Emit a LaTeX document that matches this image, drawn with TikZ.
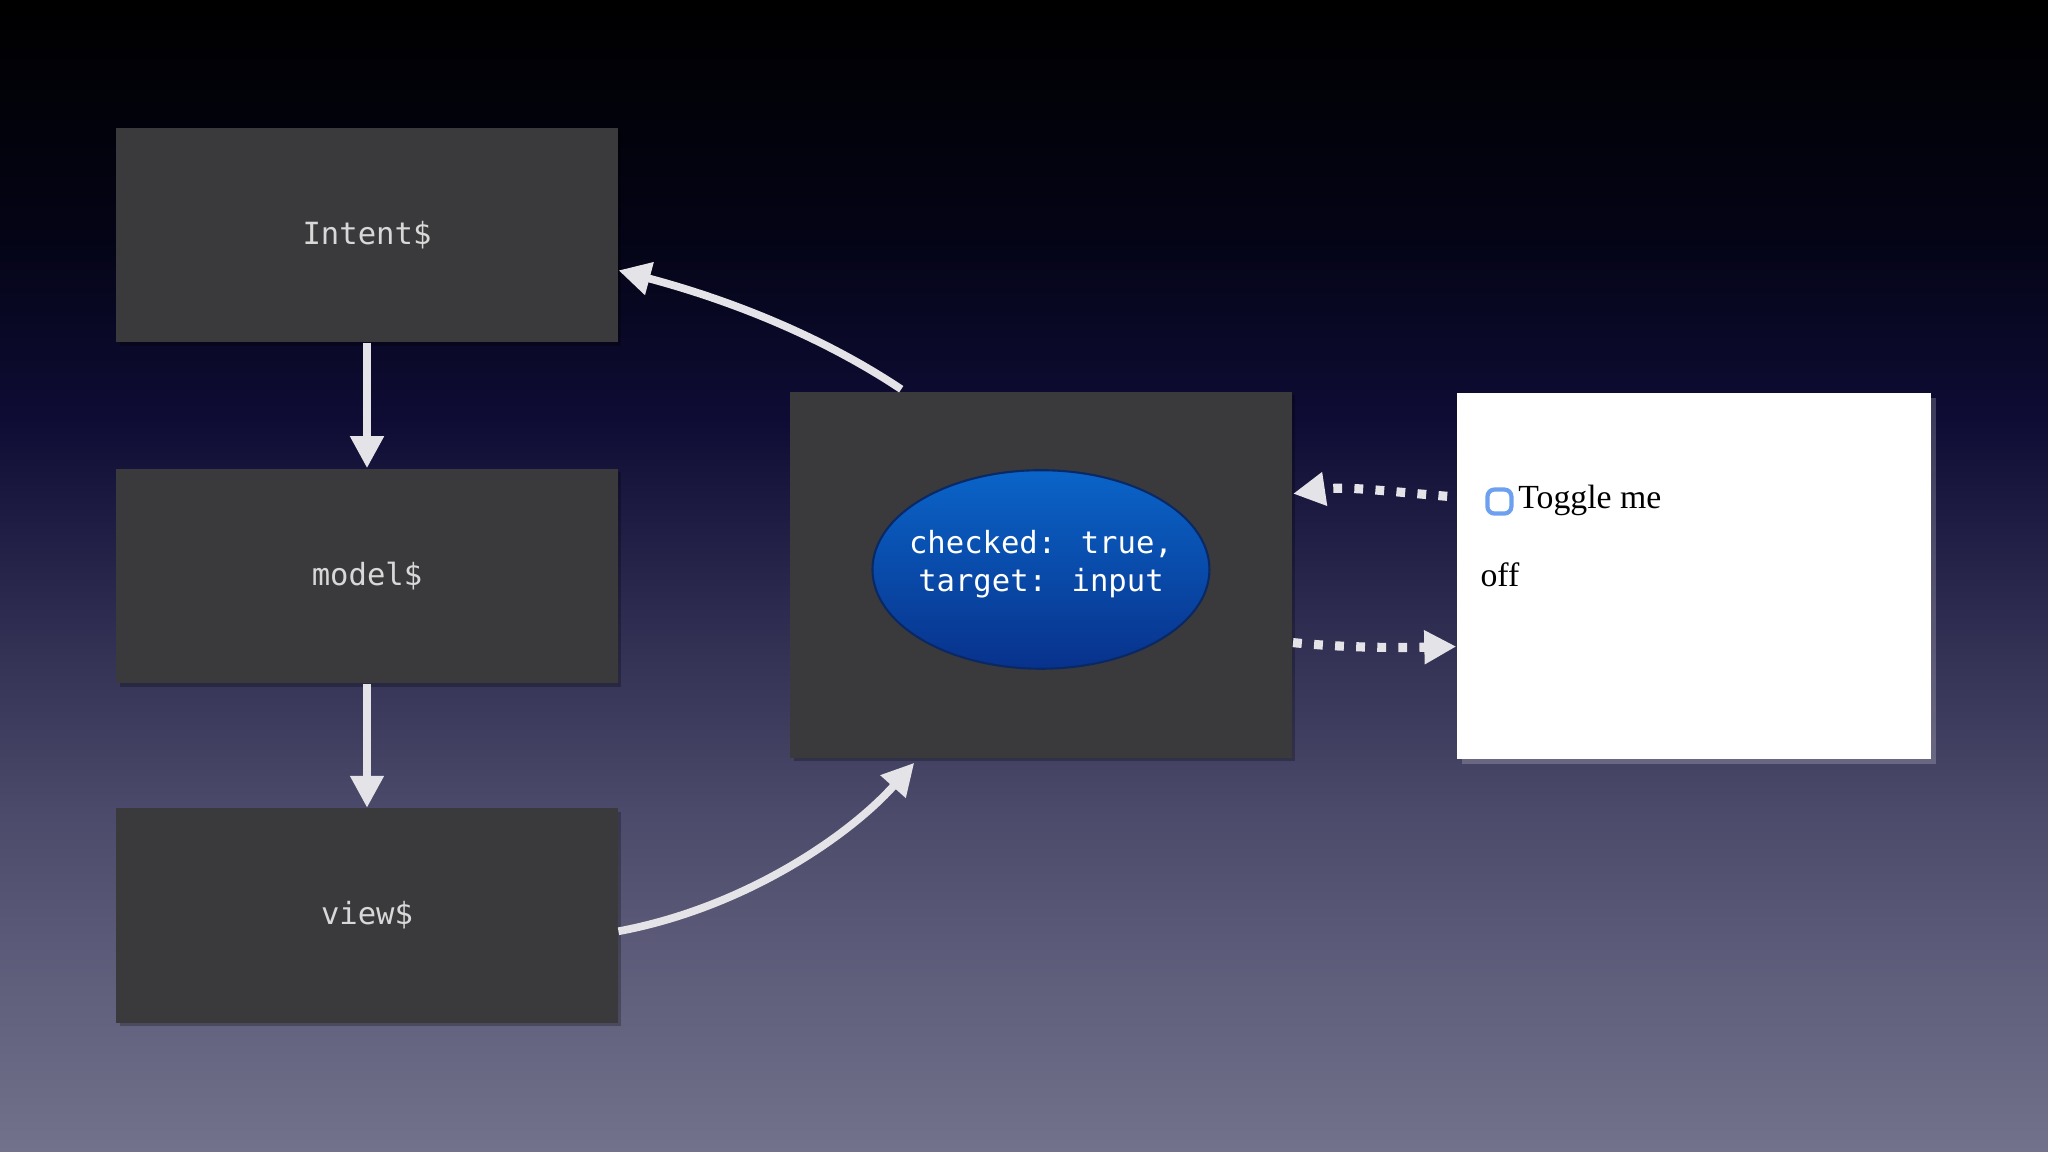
\documentclass[tikz,border=0pt]{standalone}
\usepackage{fontspec}
\setmainfont{Liberation Serif}
\newfontfamily\monof{DejaVu Sans Mono}
\usetikzlibrary{arrows.meta,shapes.geometric,shadows}
\definecolor{boxgray}{HTML}{3A3A3C}
\definecolor{txtgray}{HTML}{D8D8D8}
\definecolor{arrgray}{HTML}{E4E4E8}
\definecolor{bgA}{RGB}{0,0,0}
\definecolor{bgB}{RGB}{4,4,22}
\definecolor{bgC}{RGB}{14,12,52}
\definecolor{bgD}{RGB}{76,74,106}
\definecolor{bgE}{RGB}{114,114,140}
\tikzset{
  darkbox/.style={fill=boxgray,draw=none,minimum width=384*0.01306cm,minimum height=164*0.01306cm,text=txtgray,font=\monof\fontsize{8.7}{10}\selectfont,drop shadow={shadow xshift=1pt,shadow yshift=-1pt,opacity=0.25,fill=black}},
  conn/.style={draw=arrgray,line width=2.2pt,-{Triangle[length=0.32cm,width=0.32cm]}},
  dotconn/.style={draw=arrgray,line width=2.6pt,dash pattern=on 2.5pt off 3.5pt,-{Triangle[length=0.32cm,width=0.32cm]}},
}
\begin{document}
\begin{tikzpicture}[x=0.01306cm,y=-0.01306cm]
\shade[top color=bgA,bottom color=bgB] (0,0) rectangle (1568,180);
\shade[top color=bgB,bottom color=bgC] (0,180) rectangle (1568,320);
\shade[top color=bgC,bottom color=bgD] (0,320) rectangle (1568,620);
\shade[top color=bgD,bottom color=bgE] (0,620) rectangle (1568,882);
\useasboundingbox (0,0) rectangle (1568,882);
\node[darkbox] (intent) at (281,180) {Intent\$};
\node[darkbox] (model) at (281,441) {model\$};
\node[darkbox] (view) at (281,701) {view\$};
\node[darkbox,minimum height=280*0.01306cm] (center) at (797,440) {};
\node[ellipse,inner sep=0pt,minimum width=258*0.01306cm,minimum height=152*0.01306cm,draw={rgb,255:red,10;green,40;blue,100},line width=0.6pt,top color={rgb,255:red,10;green,100;blue,200},bottom color={rgb,255:red,8;green,50;blue,140}] (obj) at (797,436) {};
\node[text=white,align=center,font=\monof\fontsize{8.7}{11}\selectfont] (objtxt) at (797,432) {checked: true,\\target: input};
\node[fill=white,minimum width=363*0.01306cm,minimum height=280*0.01306cm,draw=none,drop shadow={shadow xshift=1.5pt,shadow yshift=-1.5pt,opacity=0.2,fill=white}] (dom) at (1297,441) {};
\node[draw={rgb,255:red,110;green,160;blue,240},line width=1.2pt,rounded corners=2pt,minimum size=0.24cm,inner sep=0pt,fill=white] (cb) at (1148,384) {};
\node[anchor=west,inner sep=0pt,font=\fontsize{9.6}{11}\selectfont] (tog) at (1162,383) {Toggle me};
\node[anchor=west,inner sep=0pt,font=\fontsize{9.6}{11}\selectfont] (off) at (1133,440) {off};
\coordinate (dtop) at (1108,380);
\coordinate (dbot) at (1115,495);
\draw[conn] (intent.south) -- (model.north);
\draw[conn] (model.south) -- (view.north);
\draw[conn] (view.east) ++(0,12) coordinate (v1) (v1) .. controls (570,695) and (650,640) .. (700,584);
\draw[conn] (690,298) .. controls (630,258) and (560,230) .. (intent.north east |- 0,207);
\draw[dotconn] (dtop) .. controls (1060,376) and (1030,372) .. (990,378);
\draw[dotconn] (990,492) .. controls (1030,496) and (1070,496) .. (dbot);
\end{tikzpicture}
\end{document}
